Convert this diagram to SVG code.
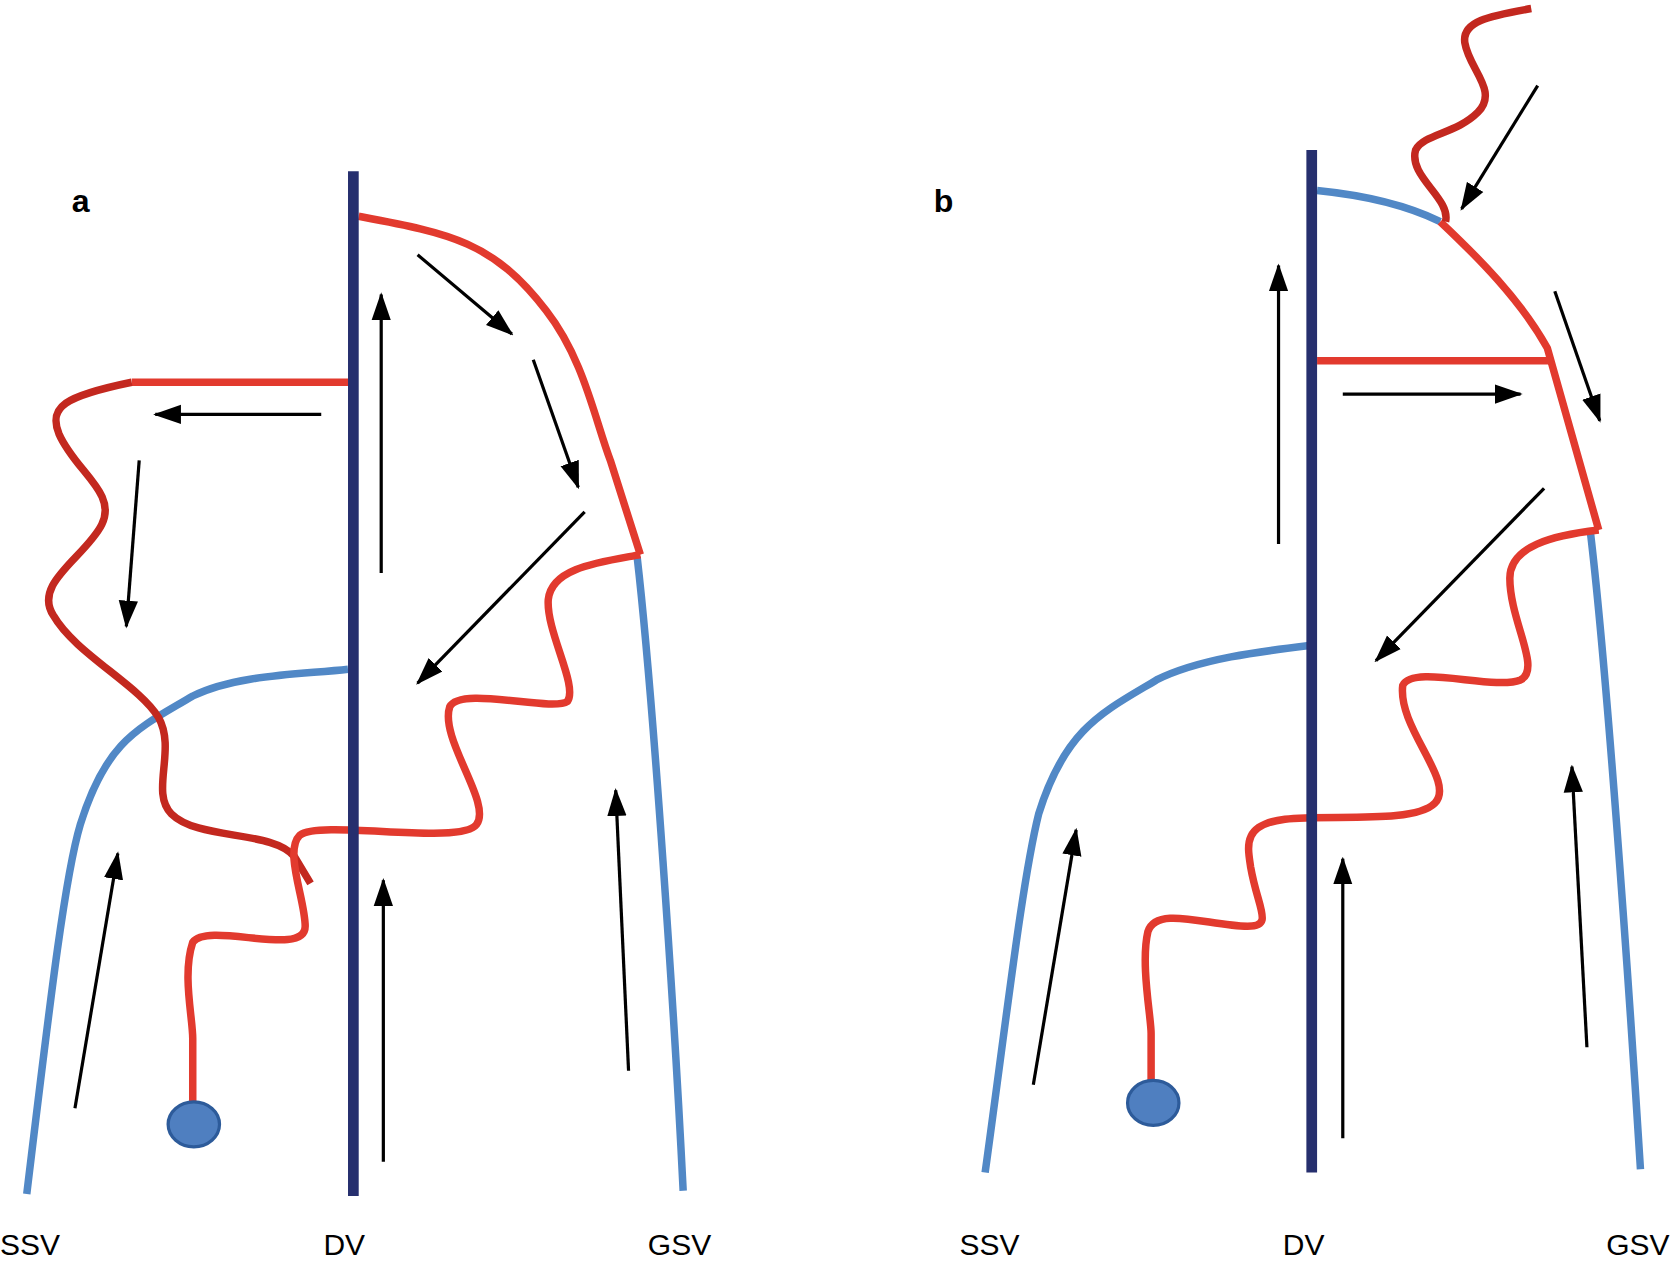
<svg xmlns="http://www.w3.org/2000/svg" width="1679" height="1263" viewBox="0 0 1679 1263">
<style>
.dv{stroke:#262f6e;stroke-width:10;fill:none}
.bl{stroke:#5188c6;stroke-width:7;fill:none}
.rd{stroke:#e23a2e;stroke-width:7;fill:none;stroke-linejoin:round}
.dr{stroke:#c3281f;stroke-width:7;fill:none}
.ar{stroke:#000;stroke-width:3;fill:none;marker-end:url(#ah)}
.lb{font-family:"Liberation Sans",Arial,sans-serif;font-size:28px;fill:#000}
.tt{font-family:"Liberation Sans",Arial,sans-serif;font-size:30px;font-weight:bold;fill:#000}
.bd{fill:#4f7fc0;stroke:#2d5b9a;stroke-width:3}
</style>
<defs>
<marker id="ah" markerUnits="userSpaceOnUse" markerWidth="26" markerHeight="20" refX="24" refY="10" orient="auto"><path d="M0,1 L26,10 L0,19 Z" fill="#000"/></marker>
</defs>
<rect width="1679" height="1263" fill="#fff"/>
<g transform="scale(1.0708)">
<g id="panel-a">
<g id="a-veins">
<path class="rd" d="M335,202 C420,218 460,225 510,290 C545,335 555,390 570,430 L598,518"/>
<path class="bl" d="M595,520 C610,650 630,950 638,1112"/>
<path class="bl" d="M25,1115 C45,950 60,820 75,770 C100,690 130,680 180,650 C220,630 280,630 325,625"/>
<path class="rd" d="M123,357 L325,357"/>
<path class="dr" d="M123,357 C60,370 45,380 55,405 C70,440 110,460 95,490 C80,520 30,545 50,575 C70,610 130,640 148,670 C165,700 140,740 160,760 C185,785 255,775 275,800 L290,825"/>
<path class="rd" d="M598,518 C560,525 515,530 512,560 C510,590 540,640 530,655 C515,665 430,640 420,660 C410,690 460,750 445,770 C430,790 300,765 280,780 C265,795 285,840 285,865 C285,895 195,860 180,880 C170,910 180,950 180,970 L180,1030"/>
<line class="dv" x1="330" y1="160" x2="330" y2="1117"/>
</g>
<ellipse id="a-dot" class="bd" cx="181" cy="1050" rx="24" ry="21"/>
<g id="a-arrows">
<line class="ar" x1="300" y1="387" x2="145" y2="387"/>
<line class="ar" x1="130" y1="430" x2="118" y2="585"/>
<line class="ar" x1="356" y1="535" x2="356" y2="275"/>
<line class="ar" x1="390" y1="238" x2="478" y2="312"/>
<line class="ar" x1="498" y1="336" x2="540" y2="455"/>
<line class="ar" x1="546" y1="478" x2="390" y2="638"/>
<line class="ar" x1="358" y1="1085" x2="358" y2="822"/>
<line class="ar" x1="70" y1="1035" x2="110" y2="797"/>
<line class="ar" x1="587" y1="1000" x2="575" y2="738"/>
</g>
<text class="tt" x="67" y="198">a</text>
<text class="lb" x="0" y="1172">SSV</text>
<text class="lb" x="302" y="1172">DV</text>
<text class="lb" x="605" y="1172">GSV</text>
</g>
<g id="panel-b">
<g id="b-veins">
<path class="bl" d="M1230,178 C1270,182 1310,190 1345,207"/>
<path class="rd" d="M1345,207 C1380,240 1420,280 1445,325 L1493,495"/>
<path class="rd" d="M1230,337 L1450,337"/>
<path class="dr" d="M1430,8 C1390,15 1365,20 1368,40 C1372,65 1400,85 1380,105 C1360,125 1330,125 1322,140 C1315,165 1355,185 1350,207"/>
<path class="bl" d="M1485,495 C1500,620 1520,900 1532,1092"/>
<path class="bl" d="M920,1095 C940,950 955,820 970,760 C995,680 1030,665 1080,635 C1120,615 1180,608 1222,603"/>
<path class="rd" d="M1493,495 C1450,500 1410,510 1410,540 C1410,580 1440,625 1420,635 C1395,645 1320,620 1310,640 C1305,680 1360,730 1340,750 C1320,770 1240,760 1200,765 C1160,770 1165,790 1168,810 C1175,850 1190,865 1165,865 C1130,865 1080,845 1072,870 C1065,900 1075,950 1075,965 L1075,1010"/>
<line class="dv" x1="1225" y1="140" x2="1225" y2="1095"/>
</g>
<ellipse id="b-dot" class="bd" cx="1077" cy="1030" rx="24" ry="21"/>
<g id="b-arrows">
<line class="ar" x1="1194" y1="508" x2="1194" y2="248"/>
<line class="ar" x1="1254" y1="368" x2="1420" y2="368"/>
<line class="ar" x1="1436" y1="80" x2="1365" y2="195"/>
<line class="ar" x1="1452" y1="272" x2="1494" y2="393"/>
<line class="ar" x1="1442" y1="456" x2="1285" y2="617"/>
<line class="ar" x1="1254" y1="1063" x2="1254" y2="802"/>
<line class="ar" x1="965" y1="1013" x2="1005" y2="775"/>
<line class="ar" x1="1482" y1="978" x2="1468" y2="716"/>
</g>
<text class="tt" x="872" y="198">b</text>
<text class="lb" x="896" y="1172">SSV</text>
<text class="lb" x="1198" y="1172">DV</text>
<text class="lb" x="1500" y="1172">GSV</text>
</g>
</g>
</svg>
